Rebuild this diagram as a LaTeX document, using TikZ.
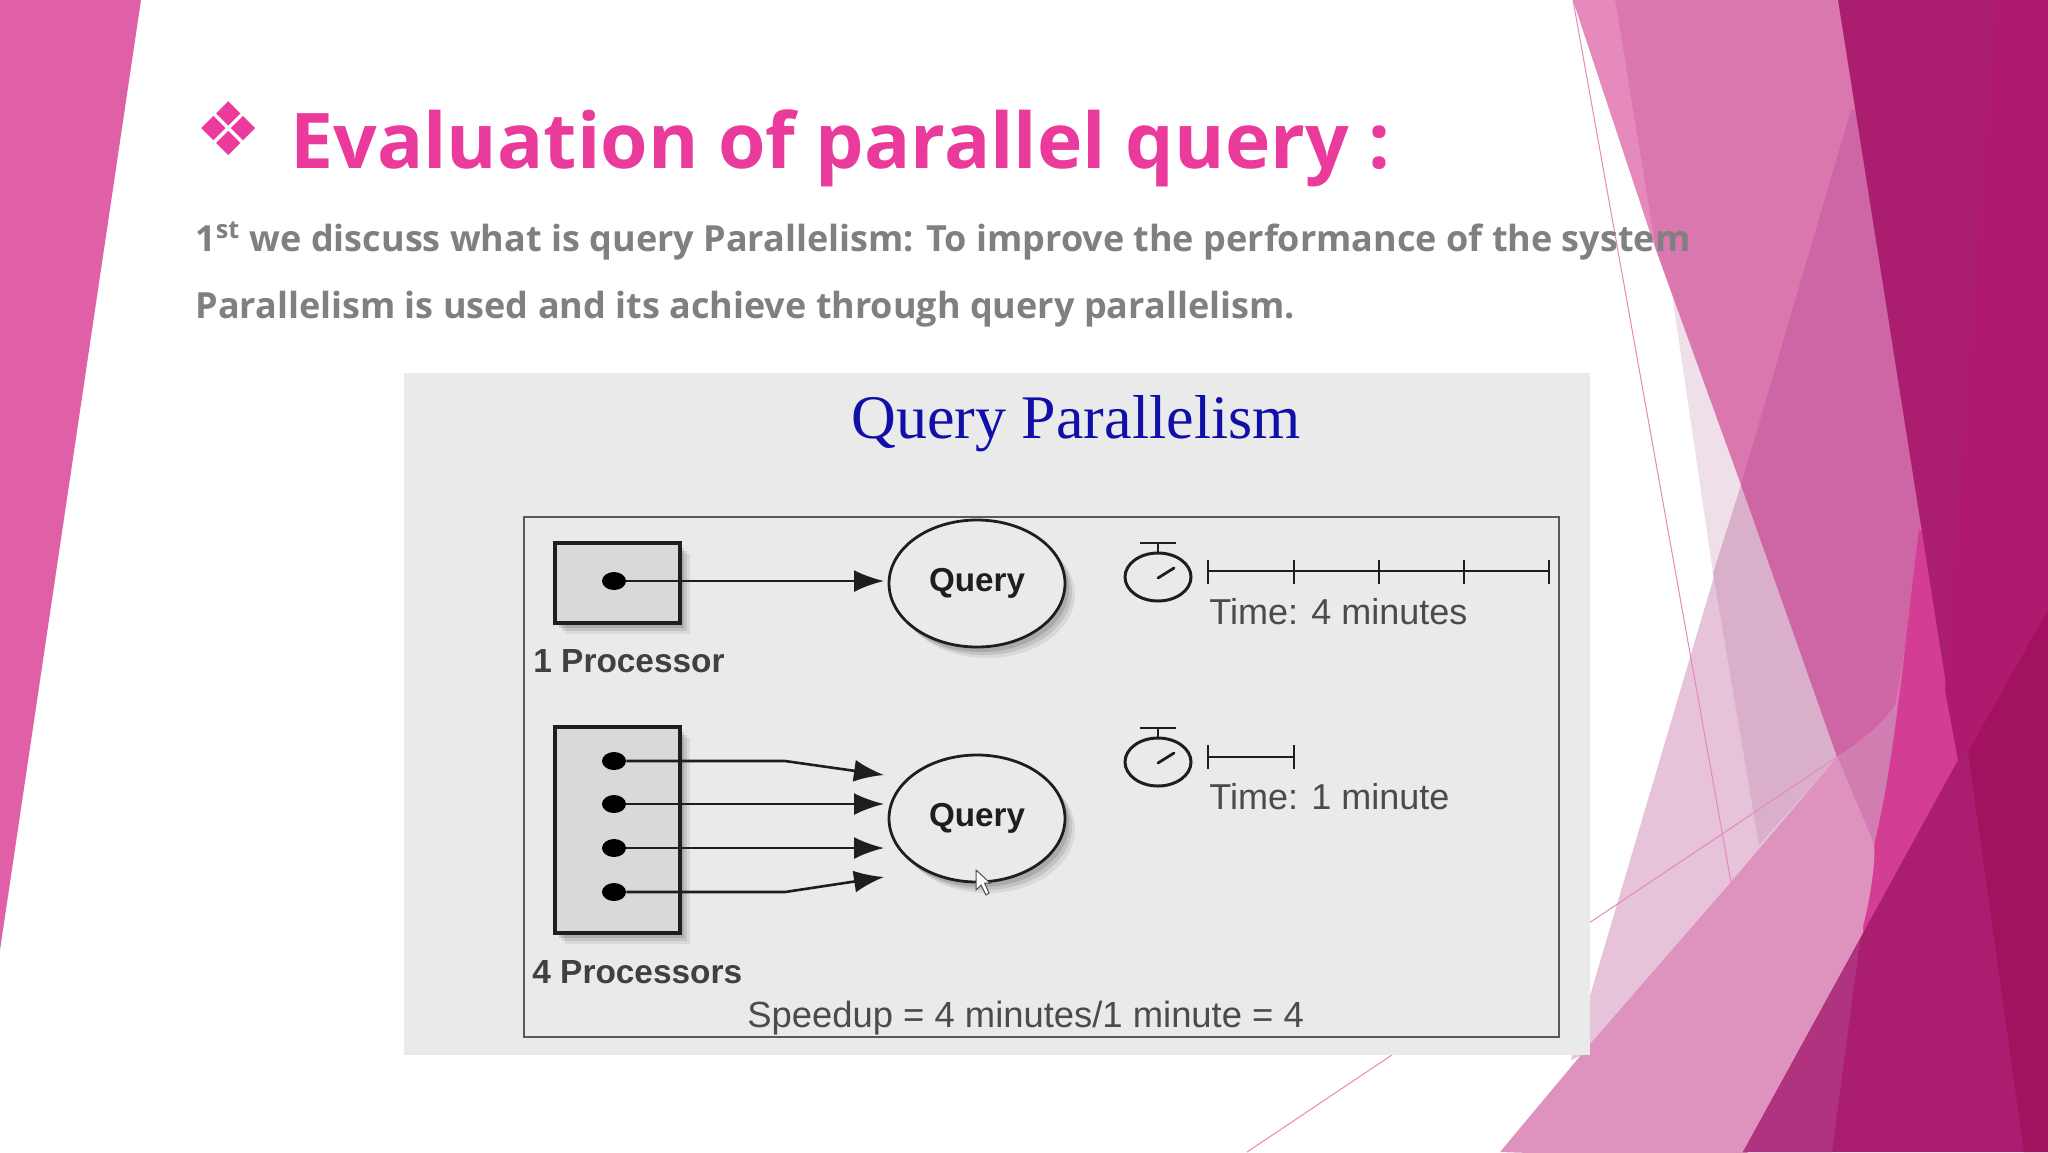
\documentclass[tikz,border=0pt]{standalone}
\usepackage{xcolor}
\usepackage{fontspec}
\setmainfont{Liberation Sans}
\newfontfamily\slidefont{Open Sans}
\newfontfamily\timesfont{Liberation Serif}
\newfontfamily\dingfont{DejaVu Sans}
\usepackage{tikz}
\usetikzlibrary{arrows.meta,shapes.geometric,shadows}
\definecolor{titlepink}{HTML}{EA3A9C}
\definecolor{sidepink}{HTML}{DF60A7}
\definecolor{bodygray}{HTML}{808080}
\definecolor{panelgray}{HTML}{EAEAEA}
\definecolor{boxgray}{HTML}{D9D9D9}
\definecolor{inkblack}{HTML}{1E1E1E}
\definecolor{headblue}{HTML}{1010A8}
\definecolor{darkmag}{HTML}{AB1D6E}
\definecolor{palepink}{HTML}{E6C3D8}
\definecolor{palertint}{HTML}{EEDFE9}
\definecolor{dimpink}{HTML}{DAAFC9}
\definecolor{softpink}{HTML}{D977AE}
\definecolor{lightpink}{HTML}{E68ABD}
\definecolor{midpink}{HTML}{CE66A5}
\definecolor{hotpink}{HTML}{D43D94}
\definecolor{brightmag}{HTML}{AF1A6E}
\definecolor{deepmag}{HTML}{A3125F}
\definecolor{dustmag}{HTML}{B03380}
\definecolor{bandpink}{HTML}{DE93BE}
\definecolor{fadepink}{HTML}{D27DB2}
\tikzset{
  softshadow/.style={drop shadow={shadow xshift=2pt,shadow yshift=-2.5pt,opacity=.12,fill=black},drop shadow={shadow xshift=3.5pt,shadow yshift=-4pt,opacity=.1,fill=black},drop shadow={shadow xshift=5pt,shadow yshift=-5.5pt,opacity=.07,fill=black}},
  procbox/.style={draw=inkblack,line width=1.8pt,fill=boxgray,inner sep=0pt,outer sep=0pt,minimum width=62.5pt,softshadow},
  querynode/.style={ellipse,draw=inkblack,line width=1.4pt,fill=panelgray,inner sep=0pt,minimum width=88pt,minimum height=63.5pt,softshadow,font=\fontsize{16.6}{20}\selectfont\bfseries,text=inkblack},
  procdot/.style={ellipse,fill=black,inner sep=0pt,minimum width=12pt,minimum height=9pt},
  watchnode/.style={ellipse,draw=inkblack,line width=1.5pt,inner sep=0pt,minimum width=33pt,minimum height=24pt},
  feedline/.style={draw=inkblack,line width=1.3pt,-{Latex[length=15pt,width=11pt]}},
  timeline/.style={draw=inkblack,line width=1.4pt},
  timetick/.style={draw=inkblack,line width=1.1pt},
  boldlabel/.style={inner sep=0pt,anchor=base west,font=\fontsize{16.7}{20}\selectfont\bfseries,text=inkblack!85},
  timelabel/.style={inner sep=0pt,anchor=base west,font=\fontsize{18}{22}\selectfont,text=inkblack!80},
  bodytext/.style={inner sep=0pt,anchor=base west,font=\slidefont\fontsize{18}{20}\selectfont\bfseries,text=bodygray},
  thinrule/.style={draw=sidepink!75,line width=.5pt}
}
\begin{document}
\begin{tikzpicture}[x=0.5pt,y=-0.5pt]
\useasboundingbox (0,0) rectangle (2048,1152);
\fill[white] (0,0) rectangle (2048,1152);
\fill[sidepink] (0,0) -- (141,0) -- (0,950) -- cycle;
\fill[palepink] (1741,485) -- (1571,1060) -- (1700,1000) -- (1837,757) -- cycle;
\fill[palertint] (1672,294) -- (1741,485) -- (1713,573) -- cycle;
\fill[dimpink] (1713,573) -- (1741,485) -- (1837,757) -- (1759,845) -- cycle;
\fill[softpink] (1573,0) -- (1850,0) -- (1930,529) -- (1910,700) -- (1874,845) -- (1741,485) -- (1656,250) -- cycle;
\fill[lightpink] (1573,0) -- (1615,0) -- (1656,250) -- cycle;
\fill[midpink] (1851,110) -- (1741,485) -- (1837,757) .. controls (1870,735) and (1885,720) .. (1895,705) .. controls (1905,650) and (1915,590) .. (1919,529) -- (1930,529) -- (1860,110) -- cycle;
\fill[fadepink] (1837,757) .. controls (1870,735) and (1885,720) .. (1895,705) -- (1905,720) -- (1874,845) -- cycle;
\fill[hotpink] (1919,529) -- (1970,560) -- (1970,760) -- (1850,960) -- (1863,926) -- (1874,845) .. controls (1895,760) and (1905,640) .. (1919,529) -- cycle;
\fill[bandpink] (1837,757) -- (1874,845) .. controls (1876,860) and (1870,900) .. (1863,926) -- (1863,960) -- (1743,1160) -- (1500,1152) -- (1591,1043) -- (1731,882) -- cycle;
\fill[darkmag] (1838,0) -- (2048,0) -- (2048,1152) -- (1743,1152) -- (1958,760) -- cycle;
\fill[brightmag] (1996,0) -- (2048,0) -- (2048,610) -- (1968,752) -- (1958,760) -- (1945,690) -- cycle;
\fill[deepmag] (1968,752) -- (2048,610) -- (2048,1152) -- (2024,1152) -- cycle;
\fill[dustmag] (1860,940) -- (1832,1152) -- (1743,1152) -- cycle;
\draw[thinrule] (1573,0) -- (1731,882);
\draw[thinrule,opacity=.35] (1731,882) -- (1769,1087);
\draw[thinrule] (1837,757) -- (1247,1152);
\fill[panelgray] (404,373) rectangle (1590,1055);
\draw[draw=black!65,line width=.8pt] (524,517) rectangle (1559,1037);
\node[inner sep=0pt,anchor=base west,font=\timesfont\fontsize{31}{36}\selectfont,text=headblue] (headtext) at (851,438) {Query Parallelism};
\node[procbox,minimum height=40pt] (procone) at (617.5,583) {};
\node[procbox,minimum height=103pt] (procfour) at (617.5,830) {};
\node[querynode] (queryone) at (977,583.5) {Query};
\node[querynode] (queryfour) at (977,818.5) {Query};
\node[procdot] (dotone) at (614,581) {};
\node[procdot] (dota) at (614,761) {};
\node[procdot] (dotb) at (614,804) {};
\node[procdot] (dotc) at (614,848) {};
\node[procdot] (dotd) at (614,892) {};
\coordinate (tipone) at (884,581);
\coordinate (tipa) at (884,775);
\coordinate (tipb) at (884,804);
\coordinate (tipc) at (884,848);
\coordinate (tipd) at (884,877);
\coordinate (benda) at (785,761);
\coordinate (bendd) at (785,892);
\draw[feedline] (dotone) -- (tipone);
\draw[feedline] (dota) -- (benda) -- (tipa);
\draw[feedline] (dotb) -- (tipb);
\draw[feedline] (dotc) -- (tipc);
\draw[feedline] (dotd) -- (bendd) -- (tipd);
\node[boldlabel] (labelone) at (533,672) {1 Processor};
\node[boldlabel] (labelfour) at (532,983) {4 Processors};
\node[watchnode] (watchone) at (1158,577) {};
\node[watchnode] (watchtwo) at (1158,762) {};
\coordinate (crownone) at (1158,543);
\coordinate (crowntwo) at (1158,728);
\draw[timeline] (watchone) -- (crownone);
\draw[timeline] (watchtwo) -- (crowntwo);
\draw[timeline] (1140,543) -- (1176,543);
\draw[timeline] (1140,728) -- (1176,728);
\draw[timeline,line cap=round] (1158,578) -- (1174,568);
\draw[timeline,line cap=round] (1158,763) -- (1174,753);
\draw[timeline] (1208,571) -- (1549,571);
\draw[timetick] (1208,560) -- (1208,584);
\draw[timetick] (1294,560) -- (1294,584);
\draw[timetick] (1379,560) -- (1379,584);
\draw[timetick] (1464,560) -- (1464,584);
\draw[timetick] (1549,560) -- (1549,584);
\draw[timeline] (1208,757) -- (1294,757);
\draw[timetick] (1208,745) -- (1208,769);
\draw[timetick] (1294,745) -- (1294,769);
\node[timelabel] (timefour) at (1209,624) {Time: 4 minutes};
\node[timelabel] (timemin) at (1209,809) {Time: 1 minute};
\node[timelabel,font=\fontsize{18.2}{22}\selectfont] (speedup) at (747,1027) {Speedup = 4 minutes/1 minute = 4};
\fill[white,draw=black!70,line width=.5pt] (976,870) -- (976,890) -- (981,885) -- (986,895) -- (989,893) -- (984.5,883) -- (990,883) -- cycle;
\node[inner sep=0pt,anchor=base,font=\dingfont\fontsize{37}{44}\selectfont,text=titlepink] (bullet) at (229,155) {❖};
\node[inner sep=0pt,anchor=base west,font=\slidefont\fontsize{38.4}{44}\selectfont\bfseries,text=titlepink] (slidetitle) at (290,168) {Evaluation of parallel query :};
\node[bodytext] (lineone) at (195,251) {1\textsuperscript{st} we discuss what is query Parallelism: To improve the performance of the system};
\node[bodytext] (linetwo) at (195,318) {Parallelism is used and its achieve through query parallelism.};
\end{tikzpicture}
\end{document}
